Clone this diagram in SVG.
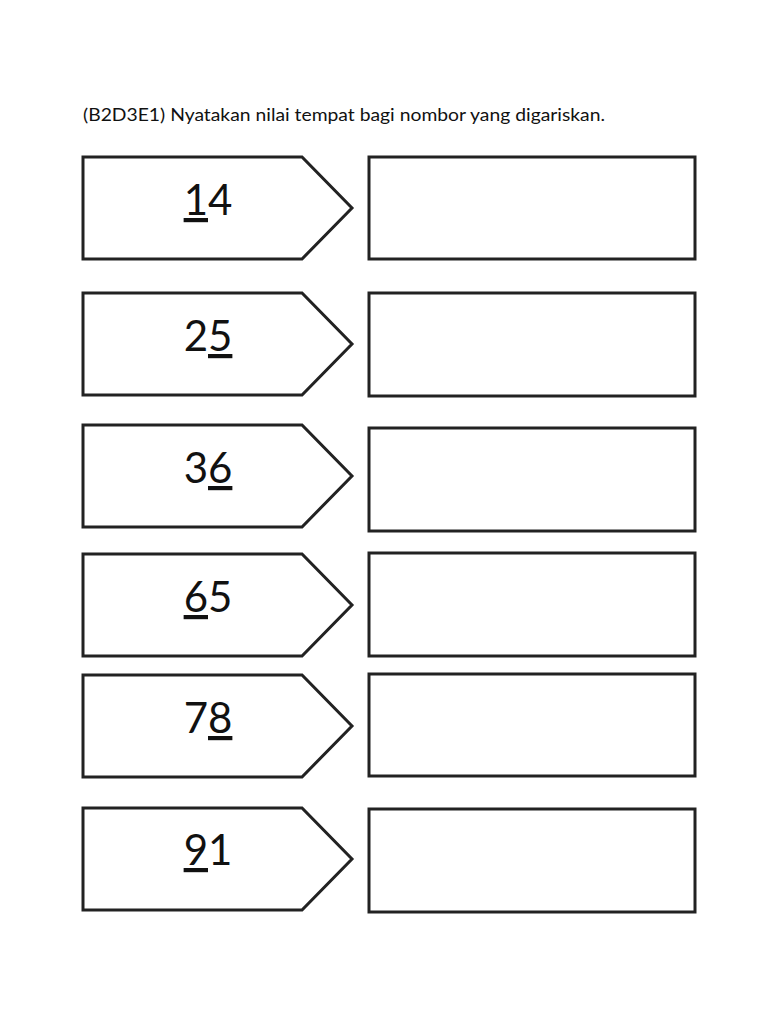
<svg xmlns="http://www.w3.org/2000/svg" width="768" height="1024" viewBox="0 0 768 1024">
<style>
.s{fill:#fff;stroke:#222;stroke-width:3}
.n{font-family:Lato,"Liberation Sans",sans-serif;font-size:42px;fill:#111;text-anchor:middle}
.u{text-decoration:underline}
.t{font-family:Lato,"Liberation Sans",sans-serif;font-size:18px;fill:#111}
</style>
<rect width="768" height="1024" fill="#fff"/>
<text class="t" x="83" y="121" textLength="522" lengthAdjust="spacingAndGlyphs">(B2D3E1) Nyatakan nilai tempat bagi nombor yang digariskan.</text>
<g id="n1"><path class="s" d="M83,157H302L352,208L302,259H83Z"/><text class="n" x="208" y="215"><tspan class="u">1</tspan>4</text></g>
<g id="b1"><rect class="s" x="369" y="157" width="326" height="102"/></g>
<g id="n2"><path class="s" d="M83,293H302L352,344L302,395H83Z"/><text class="n" x="208" y="351">2<tspan class="u">5</tspan></text></g>
<g id="b2"><rect class="s" x="369" y="293" width="326" height="103"/></g>
<g id="n3"><path class="s" d="M83,425H302L352,476L302,527H83Z"/><text class="n" x="208" y="483">3<tspan class="u">6</tspan></text></g>
<g id="b3"><rect class="s" x="369" y="428" width="326" height="103"/></g>
<g id="n4"><path class="s" d="M83,554H302L352,605L302,656H83Z"/><text class="n" x="208" y="612"><tspan class="u">6</tspan>5</text></g>
<g id="b4"><rect class="s" x="369" y="553" width="326" height="103"/></g>
<g id="n5"><path class="s" d="M83,675H302L352,726L302,777H83Z"/><text class="n" x="208" y="733">7<tspan class="u">8</tspan></text></g>
<g id="b5"><rect class="s" x="369" y="674" width="326" height="102"/></g>
<g id="n6"><path class="s" d="M83,808H302L352,859L302,910H83Z"/><text class="n" x="208" y="865"><tspan class="u">9</tspan>1</text></g>
<g id="b6"><rect class="s" x="369" y="809" width="326" height="103"/></g>
<g id="connectors"/>
</svg>
